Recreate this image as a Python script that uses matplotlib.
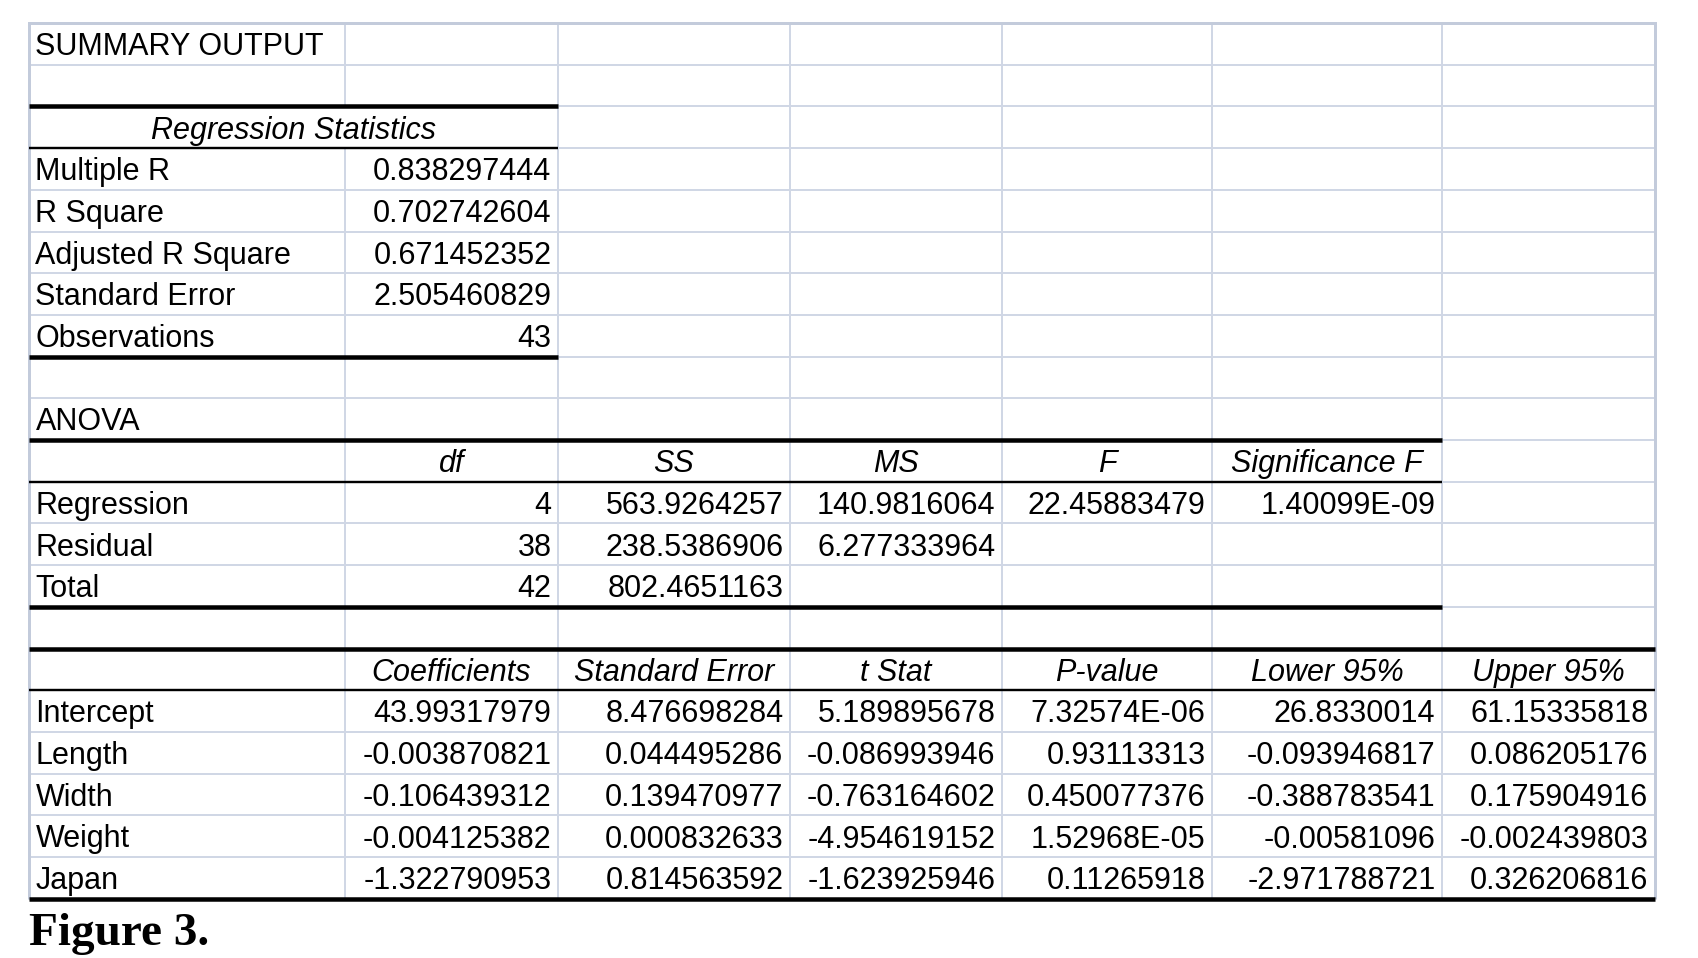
import matplotlib
matplotlib.use("Agg")
import matplotlib.pyplot as plt

# ---------------- data ----------------
title_text = "SUMMARY OUTPUT"
regstat_header = "Regression Statistics"
regstat_labels = ["Multiple R", "R Square", "Adjusted R Square", "Standard Error", "Observations"]
regstat_values = ["0.838297444", "0.702742604", "0.671452352", "2.505460829", "43"]

anova_title = "ANOVA"
anova_headers = ["df", "SS", "MS", "F", "Significance F"]
anova_labels = ["Regression", "Residual", "Total"]
anova_df = ["4", "38", "42"]
anova_ss = ["563.9264257", "238.5386906", "802.4651163"]
anova_ms = ["140.9816064", "6.277333964", ""]
anova_f = ["22.45883479", "", ""]
anova_sigf = ["1.40099E-09", "", ""]

coef_headers = ["Coefficients", "Standard Error", "t Stat", "P-value", "Lower 95%", "Upper 95%"]
coef_labels = ["Intercept", "Length", "Width", "Weight", "Japan"]
coef_values = ["43.99317979", "-0.003870821", "-0.106439312", "-0.004125382", "-1.322790953"]
coef_se = ["8.476698284", "0.044495286", "0.139470977", "0.000832633", "0.814563592"]
coef_t = ["5.189895678", "-0.086993946", "-0.763164602", "-4.954619152", "-1.623925946"]
coef_p = ["7.32574E-06", "0.93113313", "0.450077376", "1.52968E-05", "0.11265918"]
coef_lower = ["26.8330014", "-0.093946817", "-0.388783541", "-0.00581096", "-2.971788721"]
coef_upper = ["61.15335818", "0.086205176", "0.175904916", "-0.002439803", "0.326206816"]

caption = "Figure 3."

# ---------------- layout ----------------
W, H = 1698, 958
col_x = [29, 345, 558, 790, 1002, 1212, 1442, 1655]
top = 23
row_h = 41.7
n_rows = 21
row_y = [top + i * row_h for i in range(n_rows + 1)]

grid_c = "#D0D7E5"
edge_c = "#C3CBDB"
px = 72.0 / 100.0  # points per pixel at dpi 100

fig = plt.figure(figsize=(W / 100, H / 100), dpi=100)
ax = fig.add_axes([0, 0, 1, 1])
ax.set_xlim(0, W)
ax.set_ylim(H, 0)
ax.axis("off")

# horizontal grid lines
for y in row_y:
    ax.plot([col_x[0], col_x[-1]], [y, y], color=grid_c, lw=2 * px, solid_capstyle="butt", zorder=1)
# vertical grid lines
for i, x in enumerate(col_x):
    c = edge_c if i in (0, len(col_x) - 1) else grid_c
    lw = 3 * px if i in (0, len(col_x) - 1) else 2 * px
    if i == 1:
        ax.plot([x, x], [row_y[0], row_y[2]], color=c, lw=lw, solid_capstyle="butt", zorder=1)
        ax.plot([x, x], [row_y[3], row_y[-1]], color=c, lw=lw, solid_capstyle="butt", zorder=1)
    else:
        ax.plot([x, x], [row_y[0], row_y[-1]], color=c, lw=lw, solid_capstyle="butt", zorder=1)
ax.plot([col_x[0], col_x[-1]], [row_y[0], row_y[0]], color=edge_c, lw=3 * px, zorder=1)

thick = 4.5 * px
thin = 2.4 * px


def hline(r, c0, c1, lw):
    ax.plot([col_x[c0], col_x[c1]], [row_y[r], row_y[r]], color="black", lw=lw,
            solid_capstyle="butt", zorder=3)


hline(2, 0, 2, thick)
hline(3, 0, 2, thin)
hline(8, 0, 2, thick)
hline(10, 0, 6, thick)
hline(11, 0, 6, thin)
hline(14, 0, 6, thick)
hline(15, 0, 7, thick)
hline(16, 0, 7, thin)
hline(21, 0, 7, thick)

font = ["Liberation Sans", "Arial", "DejaVu Sans"]
fs = 22
pad = 6.5
base_off = 9.5


def cell_left(r, c, s, **kw):
    ax.text(col_x[c] + pad, row_y[r + 1] - base_off, s, ha="left", va="baseline",
            fontsize=fs, family=font, zorder=4, **kw)


def cell_right(r, c, s):
    if s:
        ax.text(col_x[c + 1] - pad, row_y[r + 1] - base_off, s, ha="right", va="baseline",
                fontsize=fs, family=font, zorder=4)


def cell_center(r, c0, c1, s):
    ax.text((col_x[c0] + col_x[c1]) / 2, row_y[r + 1] - base_off, s, ha="center", va="baseline",
            fontsize=fs, family=font, style="italic", zorder=4)


cell_left(0, 0, title_text)
cell_center(2, 0, 2, regstat_header)
for i, (lab, val) in enumerate(zip(regstat_labels, regstat_values)):
    cell_left(3 + i, 0, lab)
    cell_right(3 + i, 1, val)

cell_left(9, 0, anova_title)
for j, h in enumerate(anova_headers):
    cell_center(10, 1 + j, 2 + j, h)
for i, lab in enumerate(anova_labels):
    r = 11 + i
    cell_left(r, 0, lab)
    for j, col in enumerate([anova_df, anova_ss, anova_ms, anova_f, anova_sigf]):
        cell_right(r, 1 + j, col[i])

for j, h in enumerate(coef_headers):
    cell_center(15, 1 + j, 2 + j, h)
for i, lab in enumerate(coef_labels):
    r = 16 + i
    cell_left(r, 0, lab)
    for j, col in enumerate([coef_values, coef_se, coef_t, coef_p, coef_lower, coef_upper]):
        cell_right(r, 1 + j, col[i])

ax.text(29, 945, caption, ha="left", va="baseline", fontsize=34, fontweight="bold",
        family=["Liberation Serif", "DejaVu Serif"], zorder=4)

fig.savefig("out.png", dpi=100)
